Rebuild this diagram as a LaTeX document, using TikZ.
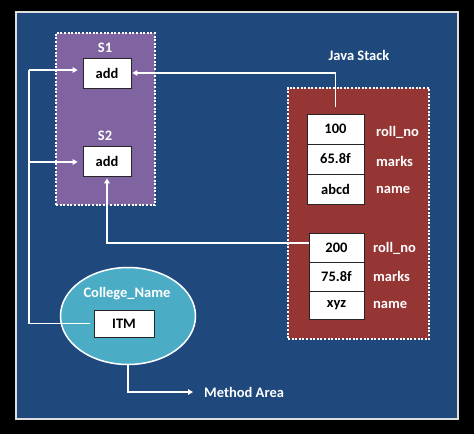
\documentclass[tikz,border=0pt]{standalone}
\usepackage{fontspec}
\setmainfont{Carlito}
\usetikzlibrary{arrows.meta,shapes.geometric}
\definecolor{stackblue}{HTML}{1F497D}
\definecolor{heappurple}{HTML}{8064A2}
\definecolor{stackred}{HTML}{963634}
\definecolor{methodcyan}{HTML}{4BACC6}
\begin{document}
\begin{tikzpicture}[x=1pt, y=-1pt, every node/.style = {font=\bfseries\fontsize{14.5}{16}\selectfont, inner sep=0pt}]
	\tikzset{
		cell/.style = {draw=black!85, line width=0.8pt, fill=white, minimum width=57pt, minimum height=30pt},
		dotbox/.style = {draw=white, line width=2.2pt, dash pattern=on 2pt off 1.6pt},
		tag/.style = {text=white, anchor=west},
		link/.style = {draw=white, line width=1.6pt},
		tip/.style = {-{Triangle[length=5pt, width=5.5pt]}}
	}
	\fill[black] (0,0) rectangle (474,434);
	\node [draw=gray!25, line width=2.5pt, fill=stackblue, minimum width=442pt, minimum height=407pt] (frame) at (237,215.5) {};
	\node [dotbox, fill=heappurple, minimum width=99pt, minimum height=172pt] (heap) at (105.5,119) {};
	\node [text=white] (s1) at (105,48) {S1};
	\node [cell, minimum width=48pt] (add1) at (107,73) {add};
	\node [text=white] (s2) at (105,136) {S2};
	\node [cell, minimum width=48pt] (add2) at (107,161) {add};
	\node [text=white] (stack title) at (359,55) {Java Stack};
	\node [dotbox, fill=stackred, minimum width=141pt, minimum height=251pt] (stack) at (358.5,213.5) {};
	\node [cell] (roll1) at (335.5,129) {100};
	\node [cell] (marks1) at (335.5,159) {65.8f};
	\node [cell] (name1) at (335.5,189) {abcd};
	\node [tag] (roll1 tag) at (376,132) {roll\_no};
	\node [tag] (marks1 tag) at (376,161) {marks};
	\node [tag] (name1 tag) at (376,190) {name};
	\node [cell, minimum width=55pt, minimum height=29pt] (roll2) at (336.5,247.5) {200};
	\node [cell, minimum width=55pt, minimum height=29pt] (marks2) at (336.5,276.5) {75.8f};
	\node [cell, minimum width=55pt, minimum height=28pt] (name2) at (336.5,305) {xyz};
	\node [tag] (roll2 tag) at (373,248) {roll\_no};
	\node [tag] (marks2 tag) at (373,276) {marks};
	\node [tag] (name2 tag) at (373,305) {name};
	\node [ellipse, draw=white, line width=1.5pt, fill=methodcyan, minimum width=135pt, minimum height=97pt] (method) at (128,316) {};
	\node [text=white] (college) at (127,294) {College\_Name};
	\node [cell, minimum width=60pt, minimum height=27pt] (itm) at (124,323.5) {ITM};
	\node [tag] (method tag) at (204,392) {Method Area};
	\coordinate (rail top) at (29,70);
	\coordinate (rail mid) at (29,162);
	\draw [link, shorten <=4pt] (itm.west) -| (rail top);
	\draw [link, tip, shorten >=5pt] (rail top) -- (rail top -| add1.west);
	\draw [link, tip, shorten >=5pt] (rail mid) -- (rail mid -| add2.west);
	\draw [link, tip, shorten >=1pt] ([yshift=7pt]roll1.north) |- (add1.east);
	\draw [link, tip, shorten >=2pt] ([yshift=4.5pt]roll2.west) -| (add2.south);
	\draw [link, tip] (method.south) |- ([xshift=-11pt]method tag.west);
\end{tikzpicture}
\end{document}
